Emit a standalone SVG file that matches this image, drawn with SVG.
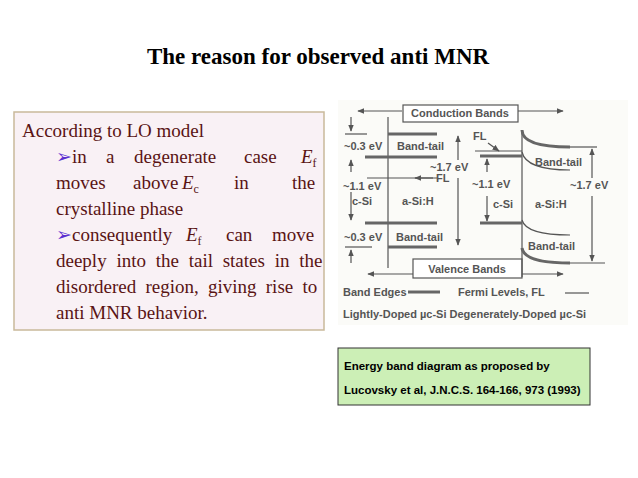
<svg xmlns="http://www.w3.org/2000/svg" width="638" height="478" viewBox="0 0 638 478">
<defs>
<marker id="ah" viewBox="0 0 10 10" refX="9" refY="5" markerWidth="6" markerHeight="6" orient="auto-start-reverse"><path d="M0,1 L10,5 L0,9 z" fill="#555"/></marker>
<style>
.t{font-family:"Liberation Serif",serif;fill:#5a1414;font-size:19px}
.d{font-family:"Liberation Sans",Arial,sans-serif;font-weight:bold;fill:#555;font-size:11px}
.thk{stroke:#666;stroke-width:3;fill:none}
.thn{stroke:#555;stroke-width:1.2;fill:none}
.ar{stroke:#555;stroke-width:1.2;fill:none;marker-end:url(#ah)}
</style>
</defs>
<rect width="638" height="478" fill="#fff"/>
<text x="318" y="64" text-anchor="middle" font-family="Liberation Serif,serif" font-weight="bold" font-size="23" fill="#000">The reason for observed anti MNR</text>
<g id="textbox">
<rect x="14" y="112" width="310" height="218" fill="#f9f1f5" stroke="#c9b99a" stroke-width="1.5"/>
<text class="t" x="22" y="137">According to LO model</text>
<text class="t" y="163"><tspan x="56" fill="#5b2fd0">➢</tspan><tspan>in</tspan><tspan x="106">a</tspan><tspan x="134">degenerate</tspan><tspan x="244">case</tspan><tspan x="301" font-style="italic">E</tspan><tspan font-size="12" dy="4">f</tspan></text>
<text class="t" y="189"><tspan x="56">moves</tspan><tspan x="133">above</tspan><tspan x="182" font-style="italic">E</tspan><tspan font-size="12" dy="4">c</tspan><tspan x="234" dy="-4">in</tspan><tspan x="292">the</tspan></text>
<text class="t" x="56" y="215">crystalline phase</text>
<text class="t" y="241"><tspan x="56" fill="#5b2fd0">➢</tspan><tspan>consequently</tspan><tspan x="186" font-style="italic">E</tspan><tspan font-size="12" dy="4">f</tspan><tspan x="226" dy="-4">can</tspan><tspan x="272">move</tspan></text>
<text class="t" x="56" y="267" word-spacing="5">deeply into the tail states in the</text>
<text class="t" x="56" y="293" word-spacing="4.5">disordered region, giving rise to</text>
<text class="t" x="56" y="319">anti MNR behavior.</text>
</g>
<g id="bandDiagram">
<rect x="338" y="100" width="290" height="225" fill="#fbfbf8"/>
<rect x="403" y="105" width="115" height="17" fill="#fff" stroke="#555" stroke-width="1.2"/>
<text class="d" x="460" y="117" text-anchor="middle">Conduction Bands</text>
<rect x="413" y="259" width="109" height="19" fill="#fff" stroke="#555" stroke-width="1.2"/>
<text class="d" x="467" y="273" text-anchor="middle">Valence Bands</text>
<line class="ar" x1="402" y1="111" x2="358" y2="111"/>
<line class="ar" x1="518" y1="111" x2="563" y2="111"/>
<line class="ar" x1="413" y1="274" x2="368" y2="274"/>
<line class="ar" x1="522" y1="274" x2="563" y2="274"/>
<line class="thn" x1="388" y1="117" x2="388" y2="268"/>
<line class="thn" x1="522" y1="130" x2="522" y2="277"/>
<line class="thk" x1="388" y1="134" x2="437" y2="134"/>
<line class="thk" x1="365" y1="157" x2="437" y2="157"/>
<line class="thn" x1="367" y1="178" x2="437" y2="178"/>
<line class="thk" x1="365" y1="223" x2="437" y2="223"/>
<line class="thk" x1="388" y1="247" x2="437" y2="247"/>
<line class="thn" x1="345" y1="134" x2="367" y2="134"/>
<line class="thn" x1="345" y1="247" x2="372" y2="247"/>
<line class="ar" x1="351" y1="117" x2="351" y2="131"/>
<line class="ar" x1="351" y1="172" x2="351" y2="160"/>
<line class="ar" x1="351" y1="192" x2="351" y2="220"/>
<line class="ar" x1="351" y1="263" x2="351" y2="250"/>
<text class="d" x="344" y="150">~0.3 eV</text>
<text class="d" x="397" y="150">Band-tail</text>
<text class="d" x="343" y="190">~1.1 eV</text>
<text class="d" x="352" y="205">c-Si</text>
<text class="d" x="402" y="205">a-Si:H</text>
<text class="d" x="344" y="241">~0.3 eV</text>
<text class="d" x="396" y="241">Band-tail</text>
<line class="ar" x1="458" y1="160" x2="458" y2="136"/>
<line class="ar" x1="458" y1="178" x2="458" y2="245"/>
<text class="d" x="430" y="171">~1.7 eV</text>
<line class="ar" x1="433" y1="178" x2="415" y2="178"/>
<text class="d" x="436" y="182">FL</text>
<text class="d" x="473" y="140">FL</text>
<line class="ar" x1="488" y1="143" x2="499" y2="151"/>
<line class="thn" x1="475" y1="151" x2="522" y2="151"/>
<line class="thk" x1="480" y1="156" x2="522" y2="156"/>
<line class="thk" x1="480" y1="223" x2="522" y2="223"/>
<path class="thk" d="M522,130 Q522,147 570,147"/>
<path class="thn" d="M522,152 Q526,170 570,170"/>
<path class="thn" d="M522,220 Q526,235 570,235"/>
<path class="thk" d="M522,248 Q524,263 570,263"/>
<line class="ar" x1="487" y1="172" x2="487" y2="159"/>
<line class="ar" x1="487" y1="196" x2="487" y2="221"/>
<text class="d" x="472" y="188">~1.1 eV</text>
<text class="d" x="493" y="208">c-Si</text>
<text class="d" x="535" y="208">a-Si:H</text>
<text class="d" x="535" y="166">Band-tail</text>
<text class="d" x="528" y="250">Band-tail</text>
<line class="thn" x1="570" y1="147" x2="597" y2="147"/>
<line class="thn" x1="570" y1="263" x2="605" y2="263"/>
<line class="ar" x1="592" y1="178" x2="592" y2="149"/>
<line class="ar" x1="592" y1="196" x2="592" y2="261"/>
<text class="d" x="570" y="189">~1.7 eV</text>
<text class="d" x="343" y="296">Band Edges</text>
<line class="thk" x1="408" y1="292" x2="440" y2="292"/>
<text class="d" x="458" y="296">Fermi Levels, FL</text>
<line class="thn" x1="565" y1="293" x2="589" y2="293"/>
<text class="d" x="343" y="318">Lightly-Doped µc-Si Degenerately-Doped µc-Si</text>
</g>
<g id="caption">
<rect x="338" y="348" width="252" height="57" fill="#ccefb6" stroke="#333" stroke-width="1"/>
<text x="344" y="370" font-family="Liberation Sans,Arial,sans-serif" font-weight="bold" font-size="11.5" fill="#000">Energy band diagram as proposed by</text>
<text x="344" y="394" font-family="Liberation Sans,Arial,sans-serif" font-weight="bold" font-size="11.5" fill="#000">Lucovsky et al, J.N.C.S. 164-166, 973 (1993)</text>
</g>
</svg>
